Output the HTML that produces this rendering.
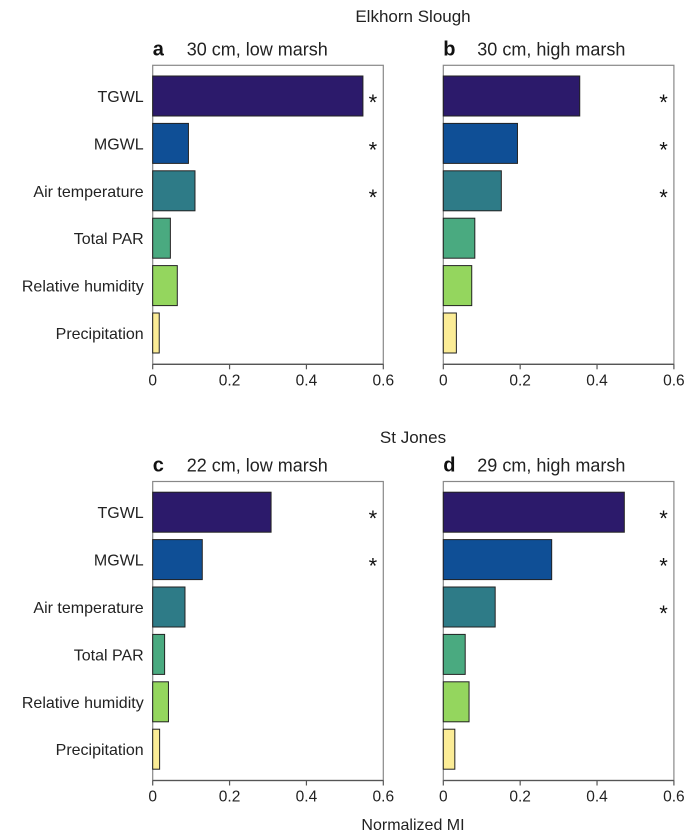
<!DOCTYPE html>
<html><head><meta charset="utf-8"><style>
html,body{margin:0;padding:0;background:#fff;}
svg{display:block;font-family:"Liberation Sans",sans-serif;}
</style></head><body>
<svg id="fig" width="685" height="836" viewBox="0 0 685 836" xmlns="http://www.w3.org/2000/svg"></svg>
<script>
const categories = ["TGWL","MGWL","Air temperature","Total PAR","Relative humidity","Precipitation"];
const colors = ["#2c1a6b","#0f4f96","#2e7b87","#4aaa80","#94d65e","#fbec96"];
const valuesA = [0.547,0.093,0.110,0.046,0.064,0.017];
const valuesB = [0.355,0.193,0.151,0.082,0.074,0.034];
const valuesC = [0.308,0.129,0.084,0.031,0.041,0.018];
const valuesD = [0.471,0.282,0.135,0.057,0.067,0.030];
const sigA = [1,1,1,0,0,0];
const sigB = [1,1,1,0,0,0];
const sigC = [1,1,0,0,0,0];
const sigD = [1,1,1,0,0,0];
const ticks = [0,0.2,0.4,0.6];
const tickLabels = ["0","0.2","0.4","0.6"];
const panelLetters = ["a","b","c","d"];
const panelTitles = ["30 cm, low marsh","30 cm, high marsh","22 cm, low marsh","29 cm, high marsh"];
const siteTitles = ["Elkhorn Slough","St Jones"];

const NS="http://www.w3.org/2000/svg";
const svg=document.getElementById('fig');
function mk(tag,attrs,parent){const e=document.createElementNS(NS,tag);for(const k in attrs)e.setAttribute(k,attrs[k]);(parent||svg).appendChild(e);return e;}

const W=230.6, XMAX=0.6, BOXH=299;
const panels=[
 {x:152.7,y:65.3,vals:valuesA,sig:sigA,labels:true},
 {x:443.3,y:65.3,vals:valuesB,sig:sigB,labels:false},
 {x:152.7,y:481.5,vals:valuesC,sig:sigC,labels:true},
 {x:443.3,y:481.5,vals:valuesD,sig:sigD,labels:false}
];
siteTitles.forEach((t,i)=>{
  const e=mk('text',{x:413,y:i===0?22:443,'text-anchor':'middle','font-size':17,fill:'#222'});
  e.textContent=t;
  
  
});
panels.forEach((p,pi)=>{
  const g=mk('g',{});
  
  
  const xs=v=>p.x+v/XMAX*W;
  const yb=i=>p.y+10.7+i*47.4;
  const L=mk('text',{x:p.x,y:p.y-10,'font-size':20,'font-weight':'bold',fill:'#111'},g);
  L.textContent=panelLetters[pi];
  
  
  const T=mk('text',{x:p.x+34,y:p.y-10,'font-size':18,fill:'#222'},g);
  T.textContent=panelTitles[pi];
  
  
  const box=mk('rect',{x:p.x,y:p.y,width:W,height:BOXH,fill:'none',stroke:'#888','stroke-width':1.2},g);
  
  
  p.vals.forEach((v,i)=>{
    const r=mk('rect',{x:xs(0),y:yb(i),width:xs(v)-xs(0),height:40,fill:colors[i],stroke:'#222','stroke-width':1},g);
    
    
    if(p.sig[i]){
      const s=mk('text',{x:p.x+W*0.955,y:yb(i)+34,'text-anchor':'middle','font-size':22,fill:'#111'},g);
      s.textContent='*';
      
      
    }
    if(p.labels){
      const t=mk('text',{x:p.x-9,y:yb(i)+26,'text-anchor':'end','font-size':16,fill:'#222'},g);
      t.textContent=categories[i];
      
      
    }
  });
  const ax=p.y+BOXH;
  mk('line',{x1:p.x,x2:p.x+W,y1:ax,y2:ax,stroke:'#555','stroke-width':1.3},g);
  ticks.forEach((tv,ti)=>{
    mk('line',{x1:xs(tv),x2:xs(tv),y1:ax,y2:ax+5,stroke:'#555','stroke-width':1.2},g);
    const t=mk('text',{x:xs(tv),y:ax+21,'text-anchor':'middle','font-size':15.5,fill:'#222'},g);
    t.textContent=tickLabels[ti];
    
    
  });
});
const xt=mk('text',{x:413,y:830,'text-anchor':'middle','font-size':16,fill:'#222'});
xt.textContent='Normalized MI';


</script>
</body></html>
